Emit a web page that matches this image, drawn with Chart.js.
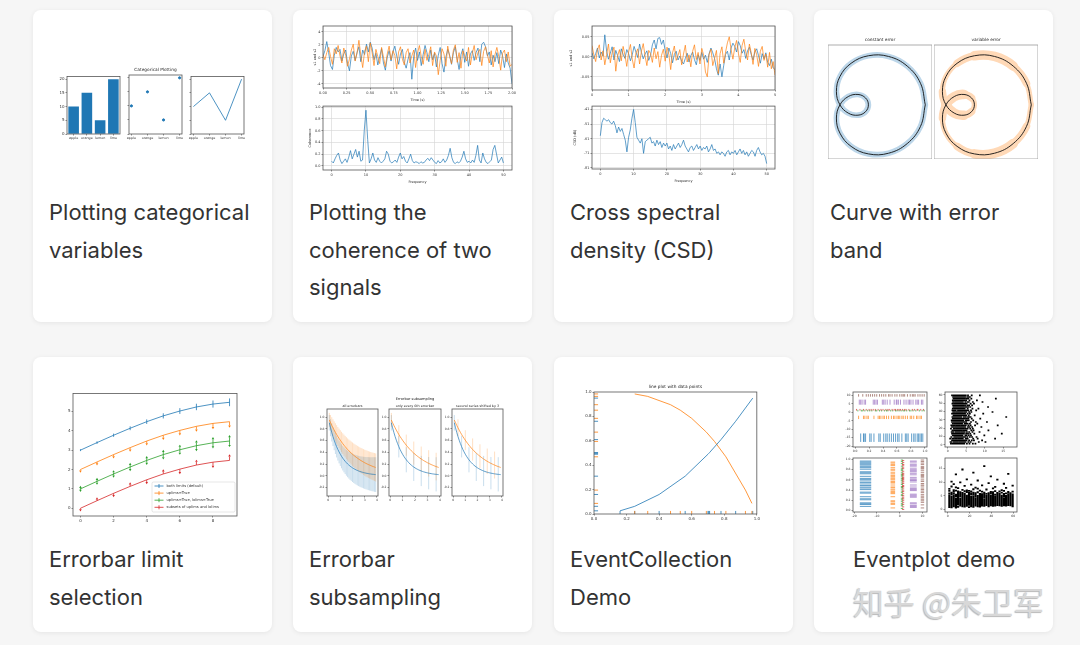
<!DOCTYPE html>
<html lang="en">
<head>
<meta charset="UTF-8">
<meta name="viewport" content="width=device-width, initial-scale=1.0">
<title>Matplotlib examples</title>
<script src="https://cdn.jsdelivr.net/npm/chart.js"></script>
<style>
  html, body { margin: 0; padding: 0; }
  body { width: 1080px; height: 645px; background: #f6f6f6; position: relative; overflow: hidden; font-family: Inter, "Noto Sans", sans-serif; }
  .card { position: absolute; width: 239px; background: #fff; border-radius: 8px; box-shadow: 0 1px 5px rgba(0,0,0,0.07); }
  .row1 { top: 10px; height: 312px; }
  .row2 { top: 357px; height: 275px; }
  .card h3 { position: absolute; left: 16px; top: 184px; margin: 0; font-size: 22px; font-weight: 400; line-height: 37.5px; color: #333; white-space: nowrap; }
  canvas { position: absolute; }
  .mark { position: absolute; left: 853px; top: 578px; font-family: "Noto Sans CJK SC"; font-size: 31px; color: #d8d8d8; text-shadow: -1px 1px 1px rgba(0,0,0,0.28); white-space: nowrap; }
</style>
</head>
<body>
<div class="card row1" style="left:33px"><h3>Plotting categorical<br>variables</h3></div>
<div class="card row1" style="left:293px"><h3>Plotting the<br>coherence of two<br>signals</h3></div>
<div class="card row1" style="left:554px"><h3>Cross spectral<br>density (CSD)</h3></div>
<div class="card row1" style="left:814px"><h3>Curve with error<br>band</h3></div>
<div class="card row2" style="left:33px"><h3>Errorbar limit<br>selection</h3></div>
<div class="card row2" style="left:293px"><h3>Errorbar<br>subsampling</h3></div>
<div class="card row2" style="left:554px"><h3>EventCollection<br>Demo</h3></div>
<div class="card row2" style="left:814px"><h3 style="left:39px">Eventplot demo</h3></div>
<div class="mark">知乎 @朱卫军</div>

<script>
// ---------- data ----------
const fruits = ['apple', 'orange', 'lemon', 'lime'];
const fruitCounts = [10, 15, 5, 20];
const fruitTicks = [0, 5, 10, 15, 20];

// coherence example: two signals sampled every 0.02 s, coherence every 0.5 Hz
const cohDt = 0.02;
const cohS1 = [0.2, 1.1, 2.5, 0.8, -1.2, -1.8, 0.4, 1.6, 0.9, 1.3, -0.5, 0.6, 1.2, -0.9, -2.0, 0.3, 1.0, -0.4, 0.8, 1.7,
  -0.6, 1.2, 0.5, 2.1, 0.9, 2.4, 1.5, -0.3, 0.7, -1.1, 0.2, 1.4, -0.8, -1.9, 0.1, 1.1, -0.5, 0.9, 1.8, 0.3,
  -1.0, 0.6, 1.3, -0.7, -1.6, -0.2, 0.8, -3.3, 0.2, 1.5, -0.4, 0.9, -1.2, 0.5, 1.9, 0.8, -0.6, 1.2, -0.3, 0.7,
  -1.4, 0.4, 1.6, -0.9, -2.2, 0.1, 1.3, 0.4, -1.0, 0.8, 1.7, -0.2, -1.8, 0.5, 1.4, -0.7, 0.9, -1.3, 0.6, 1.1,
  -0.4, 0.8, 1.5, -0.6, 2.1, 2.4, 1.7, 0.3, 0.9, -1.1, 0.4, -0.6, 0.8, -0.9, 1.2, 0.3, -1.5, 0.6, -0.8, -1.6, -4.0];
const cohS2 = [0.5, -0.3, 0.8, 1.6, 0.2, -1.0, 1.4, 0.6, 1.9, 0.3, -0.8, 1.5, 0.4, -1.3, -0.2, 1.2, 2.1, -0.5, 0.7, 2.7,
  0.4, -1.5, 1.0, 1.8, -0.6, 2.3, 0.8, -1.2, 1.3, 0.2, -0.9, 1.6, 0.1, -1.4, 0.6, 1.8, -0.3, 1.1, 0.4, -1.7,
  0.9, 1.7, -0.2, -1.1, 0.8, 1.4, -0.8, 0.3, 1.2, -1.5, 0.7, 1.9, 0.2, -1.0, 1.3, -0.4, 0.5, 1.7, -1.2, 0.9,
  0.3, -2.6, -0.4, 1.4, 0.6, -1.3, 1.8, 0.2, -0.9, 1.2, 2.0, -0.7, 0.8, -1.6, 1.1, 0.3, -0.5, 1.6, -1.1, 0.7,
  1.9, -0.3, 0.8, 1.3, -1.2, 1.0, 1.7, 0.4, -0.8, 1.1, -1.4, 0.5, 1.6, 0.2, -1.9, 0.7, 1.2, -0.6, 0.9, -1.3, -1.0];
const freqStep = 0.5;
const coherence = [0.08, 0.05, 0.12, 0.18, 0.22, 0.10, 0.04, 0.08, 0.12, 0.06,
  0.15, 0.26, 0.12, 0.20, 0.28, 0.15, 0.25, 0.08, 0.10, 0.60,
  0.95, 0.45, 0.05, 0.12, 0.22, 0.10, 0.06, 0.14, 0.08, 0.05,
  0.08, 0.12, 0.25, 0.20, 0.08, 0.05, 0.07, 0.10, 0.06, 0.15,
  0.22, 0.12, 0.16, 0.08, 0.05, 0.12, 0.20, 0.09, 0.05, 0.07,
  0.06, 0.04, 0.07, 0.05, 0.06, 0.10, 0.13, 0.09, 0.14, 0.10,
  0.06, 0.04, 0.09, 0.05, 0.07, 0.12, 0.06, 0.10, 0.18, 0.30,
  0.14, 0.06, 0.04, 0.07, 0.05, 0.08, 0.15, 0.25, 0.12, 0.06,
  0.08, 0.05, 0.10, 0.06, 0.18, 0.35, 0.10, 0.05, 0.22, 0.12,
  0.06, 0.04, 0.07, 0.10, 0.28, 0.35, 0.20, 0.05, 0.10, 0.15, 0.05];
const cohTimeTicks = [0, 0.25, 0.5, 0.75, 1, 1.25, 1.5, 1.75, 2];
const freqTicks = [0, 10, 20, 30, 40, 50];

// cross spectral density example, signals every 0.05 s
const csdDt = 0.05;
const csdS1 = [0.010, -0.005, 0.008, 0.022, -0.003, 0.012, 0.002, 0.055, 0.014, -0.006, 0.009, 0.025, -0.008, 0.016, 0.003, -0.012, 0.020, 0.006, -0.004, 0.018,
  0.008, -0.010, 0.005, 0.026, 0.012, -0.002, 0.032, 0.011, -0.005, 0.007, 0.015, -0.009, 0.004, 0.030, 0.042, 0.020, 0.046, 0.048, 0.031, 0.042,
  0.015, -0.003, 0.022, 0.008, -0.015, 0.006, 0.014, -0.008, 0.002, -0.011, -0.018, -0.004, 0.009, -0.013, 0.003, 0.012, -0.007, -0.020, 0.005, -0.009,
  0.011, -0.006, 0.004, -0.014, 0.008, 0.022, 0.010, -0.005, -0.030, -0.046, -0.018, -0.050, -0.021, 0.006, 0.014, -0.008, 0.022, 0.034, 0.026, 0.012,
  0.038, 0.028, 0.009, 0.018, -0.004, 0.015, 0.024, 0.006, -0.008, 0.012, 0.020, 0.003, -0.016, 0.008, -0.005, 0.010, -0.014, -0.022, -0.006, -0.028, -0.032];
const csdS2 = [0.028, 0.005, -0.012, 0.018, 0.030, -0.008, 0.015, -0.020, 0.006, 0.032, -0.015, 0.010, 0.024, -0.036, 0.002, 0.018, -0.010, 0.026, 0.004, -0.024,
  0.012, 0.031, -0.006, -0.028, 0.009, 0.020, -0.018, 0.014, 0.033, 0.002, -0.022, 0.016, 0.008, -0.014, 0.022, -0.005, 0.013, -0.026, 0.004, 0.019,
  -0.011, 0.024, 0.006, -0.032, 0.010, 0.027, -0.009, 0.003, 0.018, -0.020, 0.007, 0.029, -0.013, 0.005, -0.025, 0.014, 0.030, -0.007, 0.011, -0.018,
  0.021, 0.004, -0.038, -0.050, 0.006, 0.019, -0.022, -0.004, 0.016, -0.042, 0.008, 0.025, -0.016, 0.012, 0.035, 0.050, 0.018, -0.006, 0.023, 0.041,
  0.009, -0.014, 0.028, 0.044, 0.013, -0.008, 0.032, 0.010, -0.019, 0.021, 0.005, -0.024, 0.014, 0.026, -0.009, 0.007, -0.026, 0.011, -0.030, -0.012, -0.046];
const csdDb = [-59, -50, -47, -48, -49, -48, -50, -51, -49, -52,
  -57, -53, -56, -54, -58, -62, -70, -60, -55, -47,
  -41, -50, -60, -62, -64, -61, -71, -63, -62, -61,
  -60, -64, -63, -66, -62, -65, -63, -67, -64, -66,
  -64, -68, -66, -69, -65, -68, -66, -64, -67, -65,
  -62, -66, -68, -70, -67, -66, -69, -67, -65, -68,
  -66, -69, -67, -68, -66, -70, -68, -65, -69, -68,
  -71, -70, -72, -70, -71, -73, -70, -69, -72, -70,
  -71, -69, -72, -70, -68, -71, -69, -72, -70, -73,
  -71, -69, -70, -73, -69, -67, -70, -72, -71, -73, -78];
const csdTimeTicks = [0, 1, 2, 3, 4, 5];
const csdSigTicks = [-0.05, 0, 0.05];
const csdDbTicks = [-81, -71, -61, -51, -41];

// curve with error band
const curveX = [1.5, 1.416, 1.183, 0.854, 0.5, 0.196, 0, -0.062, 0, 0.146, 0.317, 0.45, 0.5, 0.45, 0.317, 0.146, 0, -0.062, 0, 0.196, 0.5, 0.854, 1.183, 1.416, 1.5];
const curveY = [0, 0.38, 0.683, 0.854, 0.866, 0.733, 0.5, 0.233, 0, -0.146, -0.183, -0.121, 0, 0.121, 0.183, 0.146, 0, -0.233, -0.5, -0.733, -0.866, -0.854, -0.683, -0.38, 0];
const constErr = 0.05;
const varErr = [0.04, 0.053, 0.078, 0.09, 0.078, 0.053, 0.04, 0.053, 0.078, 0.09, 0.078, 0.053,
  0.04, 0.053, 0.078, 0.09, 0.078, 0.053, 0.04, 0.053, 0.078, 0.09, 0.078, 0.053, 0.04];

// errorbar limit selection
const ebX = [0, 1, 2, 3, 4, 5, 6, 7, 8, 9];
const ebBoth = [3.00, 3.39, 3.77, 4.13, 4.47, 4.77, 5.02, 5.23, 5.38, 5.47];
const ebUp = [2.00, 2.39, 2.77, 3.13, 3.47, 3.77, 4.02, 4.23, 4.38, 4.47];
const ebUpLo = [1.00, 1.39, 1.77, 2.13, 2.47, 2.77, 3.02, 3.23, 3.38, 3.47];
const ebSubset = [0.00, 0.39, 0.77, 1.13, 1.47, 1.77, 2.02, 2.23, 2.38, 2.47];
const ebErr = [0.05, 0.067, 0.083, 0.10, 0.117, 0.133, 0.15, 0.167, 0.183, 0.20];
const ebSubsetLims = ['up', 'lo', 'up', 'lo', 'up', 'lo', 'up', 'lo', 'up', 'lo'];
const ebLabels = ['both limits (default)', 'uplims=True', 'uplims=True, lolims=True', 'subsets of uplims and lolims'];

// errorbar subsampling
const subX = [0.1, 0.2, 0.3, 0.4, 0.5, 0.6, 0.7, 0.8, 0.9, 1.0, 1.1, 1.2, 1.3, 1.4, 1.5, 1.6, 1.7, 1.8, 1.9, 2.0,
  2.1, 2.2, 2.3, 2.4, 2.5, 2.6, 2.7, 2.8, 2.9, 3.0, 3.1, 3.2, 3.3, 3.4, 3.5, 3.6, 3.7, 3.8, 3.9];
const subY1 = [0.905, 0.819, 0.741, 0.670, 0.607, 0.549, 0.497, 0.449, 0.407, 0.368, 0.333, 0.301, 0.273, 0.247, 0.223, 0.202, 0.183, 0.165, 0.150, 0.135,
  0.122, 0.111, 0.100, 0.091, 0.082, 0.074, 0.067, 0.061, 0.055, 0.050, 0.045, 0.041, 0.037, 0.033, 0.030, 0.027, 0.025, 0.022, 0.020];
const subY2 = [0.951, 0.905, 0.861, 0.819, 0.779, 0.741, 0.705, 0.670, 0.638, 0.607, 0.577, 0.549, 0.522, 0.497, 0.472, 0.449, 0.427, 0.407, 0.387, 0.368,
  0.350, 0.333, 0.317, 0.301, 0.287, 0.273, 0.259, 0.247, 0.235, 0.223, 0.212, 0.202, 0.192, 0.183, 0.174, 0.165, 0.157, 0.150, 0.142];
const subE1 = [0.132, 0.145, 0.155, 0.163, 0.171, 0.177, 0.184, 0.189, 0.195, 0.200, 0.205, 0.210, 0.214, 0.218, 0.222, 0.226, 0.230, 0.234, 0.238, 0.241,
  0.245, 0.248, 0.252, 0.255, 0.258, 0.261, 0.264, 0.267, 0.270, 0.273, 0.276, 0.279, 0.282, 0.284, 0.287, 0.290, 0.292, 0.295, 0.297];
const subE2 = [0.122, 0.132, 0.139, 0.145, 0.150, 0.155, 0.159, 0.163, 0.167, 0.171, 0.174, 0.177, 0.181, 0.184, 0.187, 0.189, 0.192, 0.195, 0.197, 0.200,
  0.202, 0.205, 0.207, 0.210, 0.212, 0.214, 0.216, 0.218, 0.220, 0.222, 0.225, 0.227, 0.228, 0.230, 0.232, 0.234, 0.236, 0.238, 0.240];
const every6 = [0, 6, 12, 18, 24, 30, 36];
const every6From3 = [3, 9, 15, 21, 27, 33];
const subXTicks = [0, 1, 2, 3, 4];
const subYTicks = [-0.2, 0, 0.2, 0.4, 0.6, 0.8, 1.0];

// EventCollection demo
const ecX1 = [0.16, 0.25, 0.40, 0.56, 0.70, 0.705, 0.71, 0.78, 0.87, 0.975];
const ecY1 = [0.026, 0.063, 0.16, 0.31, 0.49, 0.497, 0.504, 0.61, 0.76, 0.95];
const ecX2 = [0.25, 0.33, 0.47, 0.53, 0.60, 0.69, 0.74, 0.81, 0.93, 0.97];
const ecY2 = [0.984, 0.964, 0.896, 0.851, 0.784, 0.671, 0.595, 0.469, 0.196, 0.087];
const unitTicks = [0, 0.2, 0.4, 0.6, 0.8, 1.0];

// eventplot demo
const evRows = [
  [0.08, 0.12, 0.15, 0.21, 0.23, 0.27, 0.34, 0.36, 0.41, 0.44, 0.46, 0.52, 0.55, 0.58, 0.61, 0.63, 0.67, 0.72, 0.74, 0.76, 0.81, 0.84, 0.86, 0.89, 0.91, 0.93, 0.95, 0.97, 0.13, 0.49],
  [0.12, 0.14, 0.17, 0.33, 0.37, 0.40, 0.42, 0.45, 0.48, 0.52, 0.55, 0.57, 0.60, 0.64, 0.67, 0.69, 0.72, 0.75, 0.79, 0.81, 0.84, 0.90, 0.93, 0.95, 0.05, 0.27, 0.62, 0.88, 0.19, 0.35],
  [0.04, 0.09, 0.14, 0.18, 0.24, 0.29, 0.31, 0.38, 0.42, 0.47, 0.51, 0.54, 0.58, 0.63, 0.66, 0.71, 0.74, 0.78, 0.83, 0.87, 0.92, 0.96, 0.11, 0.35, 0.60, 0.69, 0.80, 0.99, 0.21, 0.45],
  [0.02, 0.07, 0.16, 0.20, 0.26, 0.33, 0.37, 0.40, 0.44, 0.49, 0.53, 0.56, 0.61, 0.65, 0.68, 0.73, 0.77, 0.82, 0.85, 0.89, 0.94, 0.98, 0.12, 0.29, 0.58, 0.71, 0.90, 0.47, 0.23, 0.63],
  [0.06, 0.10, 0.13, 0.26, 0.30, 0.32, 0.39, 0.43, 0.46, 0.56, 0.59, 0.62, 0.70, 0.73, 0.76, 0.80, 0.83, 0.87, 0.91, 0.95, 0.08, 0.28, 0.41, 0.60, 0.78, 0.97, 0.15, 0.50, 0.65, 0.89],
  [0.05, 0.11, 0.19, 0.22, 0.28, 0.35, 0.38, 0.44, 0.48, 0.53, 0.57, 0.64, 0.67, 0.71, 0.75, 0.79, 0.84, 0.86, 0.90, 0.93, 0.99, 0.16, 0.31, 0.50, 0.60, 0.69, 0.82, 0.96, 0.25, 0.41]
];
const evOffsets = [-15, -3, 1, 1.5, 6, 10];
const evLengths = [5, 2, 1, 1, 3, 1.5];
const gammaRows = [
  [3.2, 1.8, 4.5, 2.6, 5.9, 3.7, 0.9, 2.2, 6.8, 4.1, 3.0, 1.4, 7.5, 2.9, 5.2, 3.6],
  [2.4, 4.8, 1.1, 3.5, 6.2, 2.0, 3.9, 8.4, 1.7, 4.4, 2.8, 5.6, 3.3, 0.8, 4.0, 10.2],
  [5.1, 2.7, 3.8, 1.5, 4.6, 7.1, 2.3, 3.1, 5.8, 1.9, 4.2, 2.5, 9.3, 3.4, 6.5, 1.2],
  [3.6, 1.3, 2.9, 5.4, 4.1, 2.1, 6.9, 3.2, 1.6, 4.9, 3.7, 8.1, 2.4, 5.0, 0.7, 12.8],
  [4.3, 2.2, 6.0, 3.1, 1.8, 4.7, 2.6, 3.9, 5.3, 1.0, 7.8, 3.5, 2.0, 4.4, 6.6, 2.8],
  [1.9, 3.4, 5.7, 2.5, 4.0, 1.4, 3.0, 6.3, 2.2, 4.8, 3.6, 1.7, 9.9, 5.1, 2.9, 3.8],
  [2.8, 5.0, 1.6, 3.7, 4.4, 2.0, 7.2, 3.3, 5.5, 1.2, 2.7, 4.1, 3.0, 6.1, 14.6, 2.3],
  [4.6, 2.4, 3.1, 1.5, 5.8, 3.9, 2.1, 4.3, 6.7, 2.9, 1.1, 3.6, 5.2, 8.6, 2.6, 4.0],
  [3.0, 6.4, 2.3, 4.2, 1.3, 3.5, 5.1, 2.7, 4.8, 1.8, 7.0, 3.2, 2.0, 4.5, 3.7, 11.0],
  [1.7, 3.8, 4.9, 2.6, 6.1, 3.1, 1.9, 5.4, 2.4, 3.6, 4.2, 0.9, 6.8, 2.8, 4.7, 3.3],
  [5.5, 2.1, 3.4, 4.7, 1.6, 2.9, 6.6, 3.8, 1.2, 4.3, 2.5, 5.9, 3.1, 9.1, 2.2, 4.0],
  [2.6, 4.4, 1.8, 3.2, 5.6, 2.3, 4.1, 3.0, 7.4, 1.5, 3.7, 2.8, 4.9, 6.2, 1.0, 13.5],
  [3.9, 1.4, 5.2, 2.7, 3.5, 4.6, 2.0, 6.0, 3.3, 1.9, 4.8, 2.6, 3.1, 8.0, 5.4, 2.4],
  [4.1, 2.9, 1.2, 3.6, 6.3, 2.5, 4.4, 1.7, 5.0, 3.2, 2.1, 7.6, 3.8, 4.5, 2.8, 10.6],
  [2.2, 5.3, 3.7, 1.5, 4.2, 2.8, 3.3, 6.9, 1.9, 4.0, 5.7, 2.4, 3.5, 1.1, 4.9, 3.0],
  [3.4, 1.7, 4.6, 2.3, 5.1, 3.8, 2.6, 4.3, 1.4, 6.5, 3.0, 2.0, 8.8, 4.1, 2.7, 5.6],
  [1.5, 3.6, 2.8, 5.9, 3.2, 4.4, 1.8, 2.5, 4.9, 3.7, 6.2, 2.1, 3.4, 1.3, 5.5, 15.8],
  [4.8, 2.6, 3.9, 1.9, 4.5, 2.2, 5.7, 3.1, 2.8, 7.3, 1.6, 4.1, 3.6, 5.0, 2.3, 3.3],
  [2.9, 4.2, 1.6, 3.5, 2.4, 6.0, 3.8, 4.7, 1.2, 3.1, 5.4, 2.7, 4.3, 9.6, 3.0, 2.0],
  [3.7, 2.3, 5.0, 4.1, 1.8, 3.4, 2.6, 6.4, 3.9, 1.5, 4.6, 2.9, 3.2, 5.8, 12.1, 2.5],
  [5.2, 3.1, 2.0, 4.4, 3.6, 1.3, 5.6, 2.8, 4.0, 3.3, 7.7, 2.2, 4.8, 1.7, 3.5, 6.3],
  [2.5, 4.6, 3.3, 1.9, 5.4, 2.7, 3.8, 4.2, 2.1, 6.7, 3.0, 1.4, 4.5, 3.6, 8.3, 2.9],
  [3.3, 1.8, 4.9, 3.0, 2.4, 5.5, 4.1, 1.6, 3.7, 2.6, 4.4, 6.1, 2.0, 3.9, 5.0, 10.9],
  [4.0, 2.7, 3.6, 5.8, 1.5, 3.2, 2.3, 4.7, 6.6, 2.9, 3.4, 1.9, 5.3, 4.2, 2.5, 3.8],
  [1.8, 3.9, 2.6, 4.3, 3.1, 6.2, 2.0, 5.1, 3.5, 4.6, 1.3, 2.8, 7.1, 3.3, 4.9, 2.4],
  [3.5, 5.7, 2.2, 3.0, 4.8, 1.7, 3.9, 2.5, 5.4, 3.2, 4.1, 2.9, 1.5, 6.8, 3.6, 9.4],
  [2.7, 4.1, 3.4, 1.4, 5.0, 2.6, 4.5, 3.7, 2.1, 5.9, 3.0, 4.3, 2.4, 3.8, 1.9, 7.9],
  [4.4, 2.0, 5.6, 3.3, 2.8, 4.0, 1.6, 3.5, 6.4, 2.3, 4.7, 3.1, 5.2, 2.6, 3.9, 13.0],
  [3.1, 4.7, 1.9, 3.8, 2.5, 5.3, 3.4, 4.1, 2.2, 3.6, 6.0, 1.5, 4.4, 2.9, 5.7, 3.2],
  [2.3, 3.6, 4.2, 2.8, 5.5, 1.7, 3.3, 4.9, 2.6, 3.9, 1.2, 6.5, 3.0, 4.6, 2.1, 8.7]
];
const gammaRowStep = 2;

// ---------- colours ----------
const C0 = '#1f77b4', C1 = '#ff7f0e', C2 = '#2ca02c', C3 = '#d62728', C4 = '#9467bd', C5 = '#8c564b';

// ---------- chart.js setup ----------
Chart.defaults.animation = false;
Chart.defaults.responsive = false;
Chart.defaults.maintainAspectRatio = false;
Chart.defaults.events = [];
Chart.defaults.font.family = '"DejaVu Sans", sans-serif';
Chart.defaults.font.size = 4;
Chart.defaults.color = '#333';
Chart.defaults.plugins.legend.display = false;
Chart.defaults.plugins.tooltip.enabled = false;
Chart.defaults.elements.point.radius = 0;
Chart.defaults.elements.line.borderWidth = 0.8;
Chart.defaults.elements.line.tension = 0;

// matplotlib-like box around every axes
Chart.register({
  id: 'frame',
  defaults: { color: '#555', width: 0.8 },
  afterDraw(c, args, o) {
    const r = c.chartArea, g = c.ctx;
    g.save();
    g.strokeStyle = o.color;
    g.lineWidth = o.width;
    g.strokeRect(r.left, r.top, r.right - r.left, r.bottom - r.top);
    g.restore();
  }
});

const xy = (vals, step) => vals.map((v, i) => ({ x: i * step, y: v }));
const zip = (xs, ys) => xs.map((x, i) => ({ x, y: ys[i] }));

function lin(min, max, ticks, o = {}) {
  const fs = o.fs || 4;
  return {
    type: 'linear', min, max, bounds: 'data', display: o.display !== false,
    border: { display: false },
    grid: { drawOnChartArea: !!o.grid, color: '#d4d4d4', lineWidth: 0.6, drawTicks: true, tickLength: 1.5, tickColor: '#444', tickWidth: 0.6 },
    ticks: { autoSkip: false, maxRotation: 0, minRotation: 0, padding: 1, font: { size: fs }, callback: o.fmt || (v => String(v)) },
    afterBuildTicks: s => { s.ticks = ticks.map(v => ({ value: v })); },
    title: { display: !!o.title, text: o.title || '', padding: 0.5, font: { size: fs } }
  };
}

// place a chart so that its plot area lands on box = [x, y, w, h]
function mk(box, m, cfg) {
  const [x, y, w, h] = box, [l, t, r, b] = m;
  const cv = document.createElement('canvas');
  cv.width = w + l + r;
  cv.height = h + t + b;
  cv.style.left = (x - l) + 'px';
  cv.style.top = (y - t) + 'px';
  document.body.appendChild(cv);
  cfg.options.layout = { padding: { top: t, right: r, left: 0, bottom: 0 } };
  cfg.options.scales.x.afterFit = s => { s.height = b; };
  cfg.options.scales.y.afterFit = s => { s.width = l; };
  return new Chart(cv, cfg);
}

function heads(items) {
  return {
    id: 'heads',
    afterDraw(c) {
      const r = c.chartArea, g = c.ctx;
      g.save();
      g.fillStyle = '#222';
      g.textAlign = 'center';
      g.textBaseline = 'middle';
      items.forEach(it => {
        g.font = it.size + 'px "DejaVu Sans"';
        g.fillText(it.text, (r.left + r.right) / 2, r.top - it.dy);
      });
      g.restore();
    }
  };
}

function clipArea(c) {
  const r = c.chartArea, g = c.ctx;
  g.beginPath();
  g.rect(r.left, r.top, r.right - r.left, r.bottom - r.top);
  g.clip();
}

// ---------- 1. categorical ----------
const catX = {
  type: 'category', border: { display: false },
  grid: { offset: false, drawOnChartArea: false, tickLength: 1.5, tickColor: '#444', tickWidth: 0.6 },
  ticks: { autoSkip: false, maxRotation: 0, padding: 1, font: { size: 3.3 } }
};
mk([67, 75, 53, 59], [12, 2, 1, 7], {
  type: 'bar',
  data: { labels: fruits, datasets: [{ data: fruitCounts, backgroundColor: C0, categoryPercentage: 1, barPercentage: 0.8 }] },
  options: { scales: { x: catX, y: lin(0, 21, fruitTicks) } }
});
mk([128, 75, 54, 59], [4, 8, 5, 7], {
  type: 'scatter',
  data: { datasets: [{ data: fruitCounts.map((v, i) => ({ x: i, y: v })), backgroundColor: C0, borderColor: C0, pointRadius: 1.1 }] },
  options: { scales: { x: lin(-0.15, 3.15, [0, 1, 2, 3], { fmt: v => fruits[v], fs: 3.3 }), y: lin(0, 21, fruitTicks, { fmt: () => '' }) } },
  plugins: [heads([{ text: 'Categorical Plotting', dy: 5, size: 4.3 }])]
});
mk([191, 75, 53, 59], [4, 2, 5, 7], {
  type: 'line',
  data: { datasets: [{ data: fruitCounts.map((v, i) => ({ x: i, y: v })), borderColor: C0 }] },
  options: { scales: { x: lin(-0.15, 3.15, [0, 1, 2, 3], { fmt: v => fruits[v], fs: 3.3 }), y: lin(0, 21, fruitTicks, { fmt: () => '' }) } }
});

// ---------- 2. coherence ----------
mk([323, 26, 189, 62], [11, 4, 6, 15], {
  type: 'line',
  data: { datasets: [
    { data: xy(cohS2, cohDt), borderColor: C1, borderWidth: 0.7, order: 0 },
    { data: xy(cohS1, cohDt), borderColor: C0, borderWidth: 0.7, order: 1 }
  ] },
  options: { scales: {
    x: lin(0, 2, cohTimeTicks, { grid: true, fs: 3.5, fmt: v => v.toFixed(2), title: 'Time (s)' }),
    y: lin(-4.65, 4.9, [-4, -2, 0, 2, 4], { grid: true, fs: 3.5, title: 's1 and s2' })
  } }
});
mk([323, 106, 189, 64], [16, 3, 6, 15], {
  type: 'line',
  data: { datasets: [{ data: xy(coherence, freqStep), borderColor: C0, borderWidth: 0.7 }] },
  options: { scales: {
    x: lin(-2.5, 52.5, freqTicks, { grid: true, fs: 3.5, title: 'Frequency' }),
    y: lin(-0.07, 1.02, [0, 0.2, 0.4, 0.6, 0.8, 1.0], { grid: true, fs: 3.5, fmt: v => v.toFixed(1), title: 'Coherence' })
  } }
});

// ---------- 3. CSD ----------
mk([592, 26, 183, 64], [24, 4, 6, 15], {
  type: 'line',
  data: { datasets: [
    { data: xy(csdS2, csdDt), borderColor: C1, borderWidth: 0.7, order: 0 },
    { data: xy(csdS1, csdDt), borderColor: C0, borderWidth: 0.7, order: 1 }
  ] },
  options: { scales: {
    x: lin(0, 5, csdTimeTicks, { grid: true, fs: 3.5, title: 'Time (s)' }),
    y: lin(-0.083, 0.077, csdSigTicks, { grid: true, fs: 3.5, fmt: v => v.toFixed(2), title: 's1 and s2' })
  } }
});
mk([592, 106, 183, 63], [20, 3, 6, 15], {
  type: 'line',
  data: { datasets: [{ data: xy(csdDb, freqStep), borderColor: C0, borderWidth: 0.7 }] },
  options: { scales: {
    x: lin(-2.5, 52.5, freqTicks, { grid: true, fs: 3.5, title: 'Frequency' }),
    y: lin(-81.7, -38.7, csdDbTicks, { grid: true, fs: 3.5, title: 'CSD (dB)' })
  } }
});

// ---------- 4. curve with error band ----------
const curvePts = zip(curveX, curveY);
function pxPerUnit(ch) {
  return ch && ch.scales && ch.scales.x ? ch.scales.x.getPixelForValue(1) - ch.scales.x.getPixelForValue(0) : 57;
}
function curveChart(box, title, bandColor, errAt) {
  mk(box, [0, 8, 0, 0], {
    type: 'line',
    data: { datasets: [
      { data: curvePts, borderColor: '#111', borderWidth: 0.9, tension: 0.4, order: 0 },
      { data: curvePts, borderColor: bandColor, tension: 0.4, order: 1, borderCapStyle: 'round', borderJoinStyle: 'round',
        borderWidth: 2 * errAt(0) * 57,
        segment: { borderWidth: s => (errAt(s.p0DataIndex) + errAt(s.p1DataIndex)) * pxPerUnit(s.chart) } }
    ] },
    options: {
      scales: { x: lin(-0.21, 1.618, [], { display: false }), y: lin(-0.956, 1.056, [], { display: false }) },
      plugins: { frame: { color: '#9a9a9a', width: 0.8 } }
    },
    plugins: [heads([{ text: title, dy: 5, size: 4.3 }])]
  });
}
curveChart([828, 45, 104, 114], 'constant error', '#bcd6e9', () => constErr);
curveChart([934, 45, 104, 114], 'variable error', '#ffd9b7', i => varErr[i]);

// ---------- 5. errorbar limit selection ----------
const ebSeries = [
  { y: ebBoth, color: C0, lims: ebX.map(() => 'both') },
  { y: ebUp, color: C1, lims: ebX.map(() => 'up') },
  { y: ebUpLo, color: C2, lims: ebX.map(() => 'uplo') },
  { y: ebSubset, color: C3, lims: ebSubsetLims }
];
function caret(g, px, py, dir) {
  g.beginPath();
  g.moveTo(px - 1.3, py);
  g.lineTo(px + 1.3, py);
  g.lineTo(px, py + dir * 2.2);
  g.closePath();
  g.fill();
}
const ebPlugin = {
  id: 'eb',
  afterDatasetsDraw(c) {
    const x = c.scales.x, y = c.scales.y, g = c.ctx;
    g.save();
    g.lineWidth = 0.8;
    ebSeries.forEach(s => {
      g.strokeStyle = s.color;
      g.fillStyle = s.color;
      s.y.forEach((v, i) => {
        const e = ebErr[i], lim = s.lims[i], px = x.getPixelForValue(ebX[i]);
        const top = lim === 'up' ? v : v + e;
        const bot = lim === 'lo' ? v : v - e;
        g.beginPath();
        g.moveTo(px, y.getPixelForValue(bot));
        g.lineTo(px, y.getPixelForValue(top));
        g.stroke();
        if (lim === 'up' || lim === 'uplo') caret(g, px, y.getPixelForValue(v - e), 1);
        if (lim === 'lo' || lim === 'uplo') caret(g, px, y.getPixelForValue(v + e), -1);
      });
    });
    // legend, lower right
    const r = c.chartArea, w = 83, h = 30, x0 = r.right - w - 2, y0 = r.bottom - h - 4;
    g.fillStyle = 'rgba(255,255,255,0.85)';
    g.strokeStyle = '#cccccc';
    g.lineWidth = 0.5;
    g.beginPath();
    g.roundRect(x0, y0, w, h, 1.5);
    g.fill();
    g.stroke();
    g.font = '3.7px "DejaVu Sans"';
    g.textBaseline = 'middle';
    ebLabels.forEach((lab, i) => {
      const yy = y0 + 4 + i * 7.1, col = ebSeries[i].color;
      g.strokeStyle = col;
      g.lineWidth = 0.8;
      g.beginPath();
      g.moveTo(x0 + 2.5, yy); g.lineTo(x0 + 11.5, yy);
      g.moveTo(x0 + 7, yy - 2); g.lineTo(x0 + 7, yy + 2);
      g.stroke();
      g.fillStyle = '#333';
      g.fillText(lab, x0 + 14.5, yy);
    });
    g.restore();
  }
};
mk([73, 392, 164, 124], [9, 2, 3, 8], {
  type: 'line',
  data: { datasets: ebSeries.map(s => ({ data: zip(ebX, s.y), borderColor: s.color, borderWidth: 0.8 })) },
  options: { scales: { x: lin(-0.45, 9.45, [0, 2, 4, 6, 8]), y: lin(-0.4, 5.93, [0, 1, 2, 3, 4, 5]) } },
  plugins: [ebPlugin]
});

// ---------- 6. errorbar subsampling ----------
const allIdx = subX.map((_, i) => i);
function subBars(sets) {
  return {
    id: 'sb',
    beforeDatasetsDraw(c) {
      const x = c.scales.x, y = c.scales.y, g = c.ctx;
      g.save();
      clipArea(c);
      g.lineWidth = 0.55;
      sets.forEach(s => {
        g.strokeStyle = s.color;
        g.beginPath();
        s.idx.forEach(i => {
          const px = x.getPixelForValue(subX[i]);
          g.moveTo(px, y.getPixelForValue(s.y[i] - s.e[i]));
          g.lineTo(px, y.getPixelForValue(s.y[i] + s.e[i]));
        });
        g.stroke();
      });
      g.restore();
    }
  };
}
const C0bar = 'rgba(31,119,180,0.45)', C1bar = 'rgba(255,127,14,0.45)';
function subPanel(box, m, titles, idx1, idx2) {
  mk(box, m, {
    type: 'line',
    data: { datasets: [
      { data: zip(subX, subY1), borderColor: C0, borderWidth: 0.7 },
      { data: zip(subX, subY2), borderColor: C1, borderWidth: 0.7 }
    ] },
    options: { scales: {
      x: lin(-0.09, 4.09, subXTicks, { fs: 3 }),
      y: lin(-0.345, 1.14, subYTicks, { fs: 3, fmt: v => v.toFixed(1) })
    } },
    plugins: [subBars([{ y: subY1, e: subE1, color: C0bar, idx: idx1 }, { y: subY2, e: subE2, color: C1bar, idx: idx2 }]), heads(titles)]
  });
}
subPanel([327, 409, 51, 87], [8, 6, 2, 6], [{ text: 'all errorbars', dy: 3.3, size: 3.3 }], allIdx, allIdx);
subPanel([389, 409, 52, 87], [8, 13, 2, 6], [{ text: 'only every 6th errorbar', dy: 3.3, size: 3.3 }, { text: 'Errorbar subsampling', dy: 10, size: 3.6 }], every6, every6);
subPanel([452, 409, 51, 87], [8, 6, 2, 6], [{ text: 'second series shifted by 3', dy: 3.3, size: 3.3 }], every6, every6From3);

// ---------- 7. EventCollection ----------
const ecEvents = {
  id: 'ecev',
  afterDatasetsDraw(c) {
    const x = c.scales.x, y = c.scales.y, g = c.ctx;
    g.save();
    clipArea(c);
    g.lineWidth = 0.8;
    [[ecX1, ecY1, C0], [ecX2, ecY2, C1]].forEach(([xs, ys, col]) => {
      g.strokeStyle = col;
      g.beginPath();
      xs.forEach(v => {
        const px = x.getPixelForValue(v);
        g.moveTo(px, y.getPixelForValue(-0.025));
        g.lineTo(px, y.getPixelForValue(0.025));
      });
      ys.forEach(v => {
        const py = y.getPixelForValue(v);
        g.moveTo(x.getPixelForValue(-0.025), py);
        g.lineTo(x.getPixelForValue(0.025), py);
      });
      g.stroke();
    });
    g.restore();
  }
};
mk([594, 392, 164, 122], [9, 8, 3, 6], {
  type: 'line',
  data: { datasets: [
    { data: zip(ecX1, ecY1), borderColor: C0, borderWidth: 0.8 },
    { data: zip(ecX2, ecY2), borderColor: C1, borderWidth: 0.8 }
  ] },
  options: { scales: {
    x: lin(0, 1, unitTicks, { fmt: v => v.toFixed(1) }),
    y: lin(0, 1, unitTicks, { fmt: v => v.toFixed(1) })
  } },
  plugins: [ecEvents, heads([{ text: 'line plot with data points', dy: 5, size: 4.3 }])]
});

// ---------- 8. eventplot ----------
const evColors = [C0, C1, C2, C3, C4, C5];
const gammaOffsets = gammaRows.map((_, i) => 1.5 + gammaRowStep * i);
const gammaLengths = gammaRows.map(() => gammaRowStep);
const gammaColors = gammaRows.map(() => '#000');
function evPlot(rows, offs, lens, cols, vertical, lw) {
  return {
    id: 'ev',
    afterDatasetsDraw(c) {
      const x = c.scales.x, y = c.scales.y, g = c.ctx;
      g.save();
      clipArea(c);
      g.lineWidth = lw;
      rows.forEach((row, i) => {
        const o = offs[i], h = lens[i] / 2;
        g.strokeStyle = cols[i];
        g.beginPath();
        row.forEach(p => {
          if (vertical) {
            const py = y.getPixelForValue(p);
            g.moveTo(x.getPixelForValue(o - h), py);
            g.lineTo(x.getPixelForValue(o + h), py);
          } else {
            const px = x.getPixelForValue(p);
            g.moveTo(px, y.getPixelForValue(o - h));
            g.lineTo(px, y.getPixelForValue(o + h));
          }
        });
        g.stroke();
      });
      g.restore();
    }
  };
}
const f1 = v => v.toFixed(1);
mk([853, 392, 74, 55], [10, 3, 3, 7], {
  type: 'scatter', data: { datasets: [] },
  options: { scales: { x: lin(-0.03, 1.03, unitTicks, { fs: 3, fmt: f1 }), y: lin(-20.5, 12, [-20, -15, -10, -5, 0, 5, 10], { fs: 3 }) } },
  plugins: [evPlot(evRows, evOffsets, evLengths, evColors, false, 0.7)]
});
mk([945, 392, 72, 55], [8, 3, 3, 7], {
  type: 'scatter', data: { datasets: [] },
  options: { scales: { x: lin(-0.7, 18.7, [0, 5, 10, 15], { fs: 3 }), y: lin(-2.5, 63.5, [0, 10, 20, 30, 40, 50, 60], { fs: 3 }) } },
  plugins: [evPlot(gammaRows, gammaOffsets, gammaLengths, gammaColors, false, 1.8)]
});
mk([853, 458, 74, 54], [10, 3, 3, 7], {
  type: 'scatter', data: { datasets: [] },
  options: { scales: { x: lin(-20.5, 12, [-20, -10, 0, 10], { fs: 3 }), y: lin(-0.03, 1.03, unitTicks, { fs: 3, fmt: f1 }) } },
  plugins: [evPlot(evRows, evOffsets, evLengths, evColors, true, 0.7)]
});
mk([945, 458, 72, 54], [8, 3, 3, 7], {
  type: 'scatter', data: { datasets: [] },
  options: { scales: { x: lin(-2.5, 63.5, [0, 20, 40, 60], { fs: 3 }), y: lin(-0.9, 18.8, [0, 5, 10, 15], { fs: 3 }) } },
  plugins: [evPlot(gammaRows, gammaOffsets, gammaLengths, gammaColors, true, 1.8)]
});
</script>
</body>
</html>
